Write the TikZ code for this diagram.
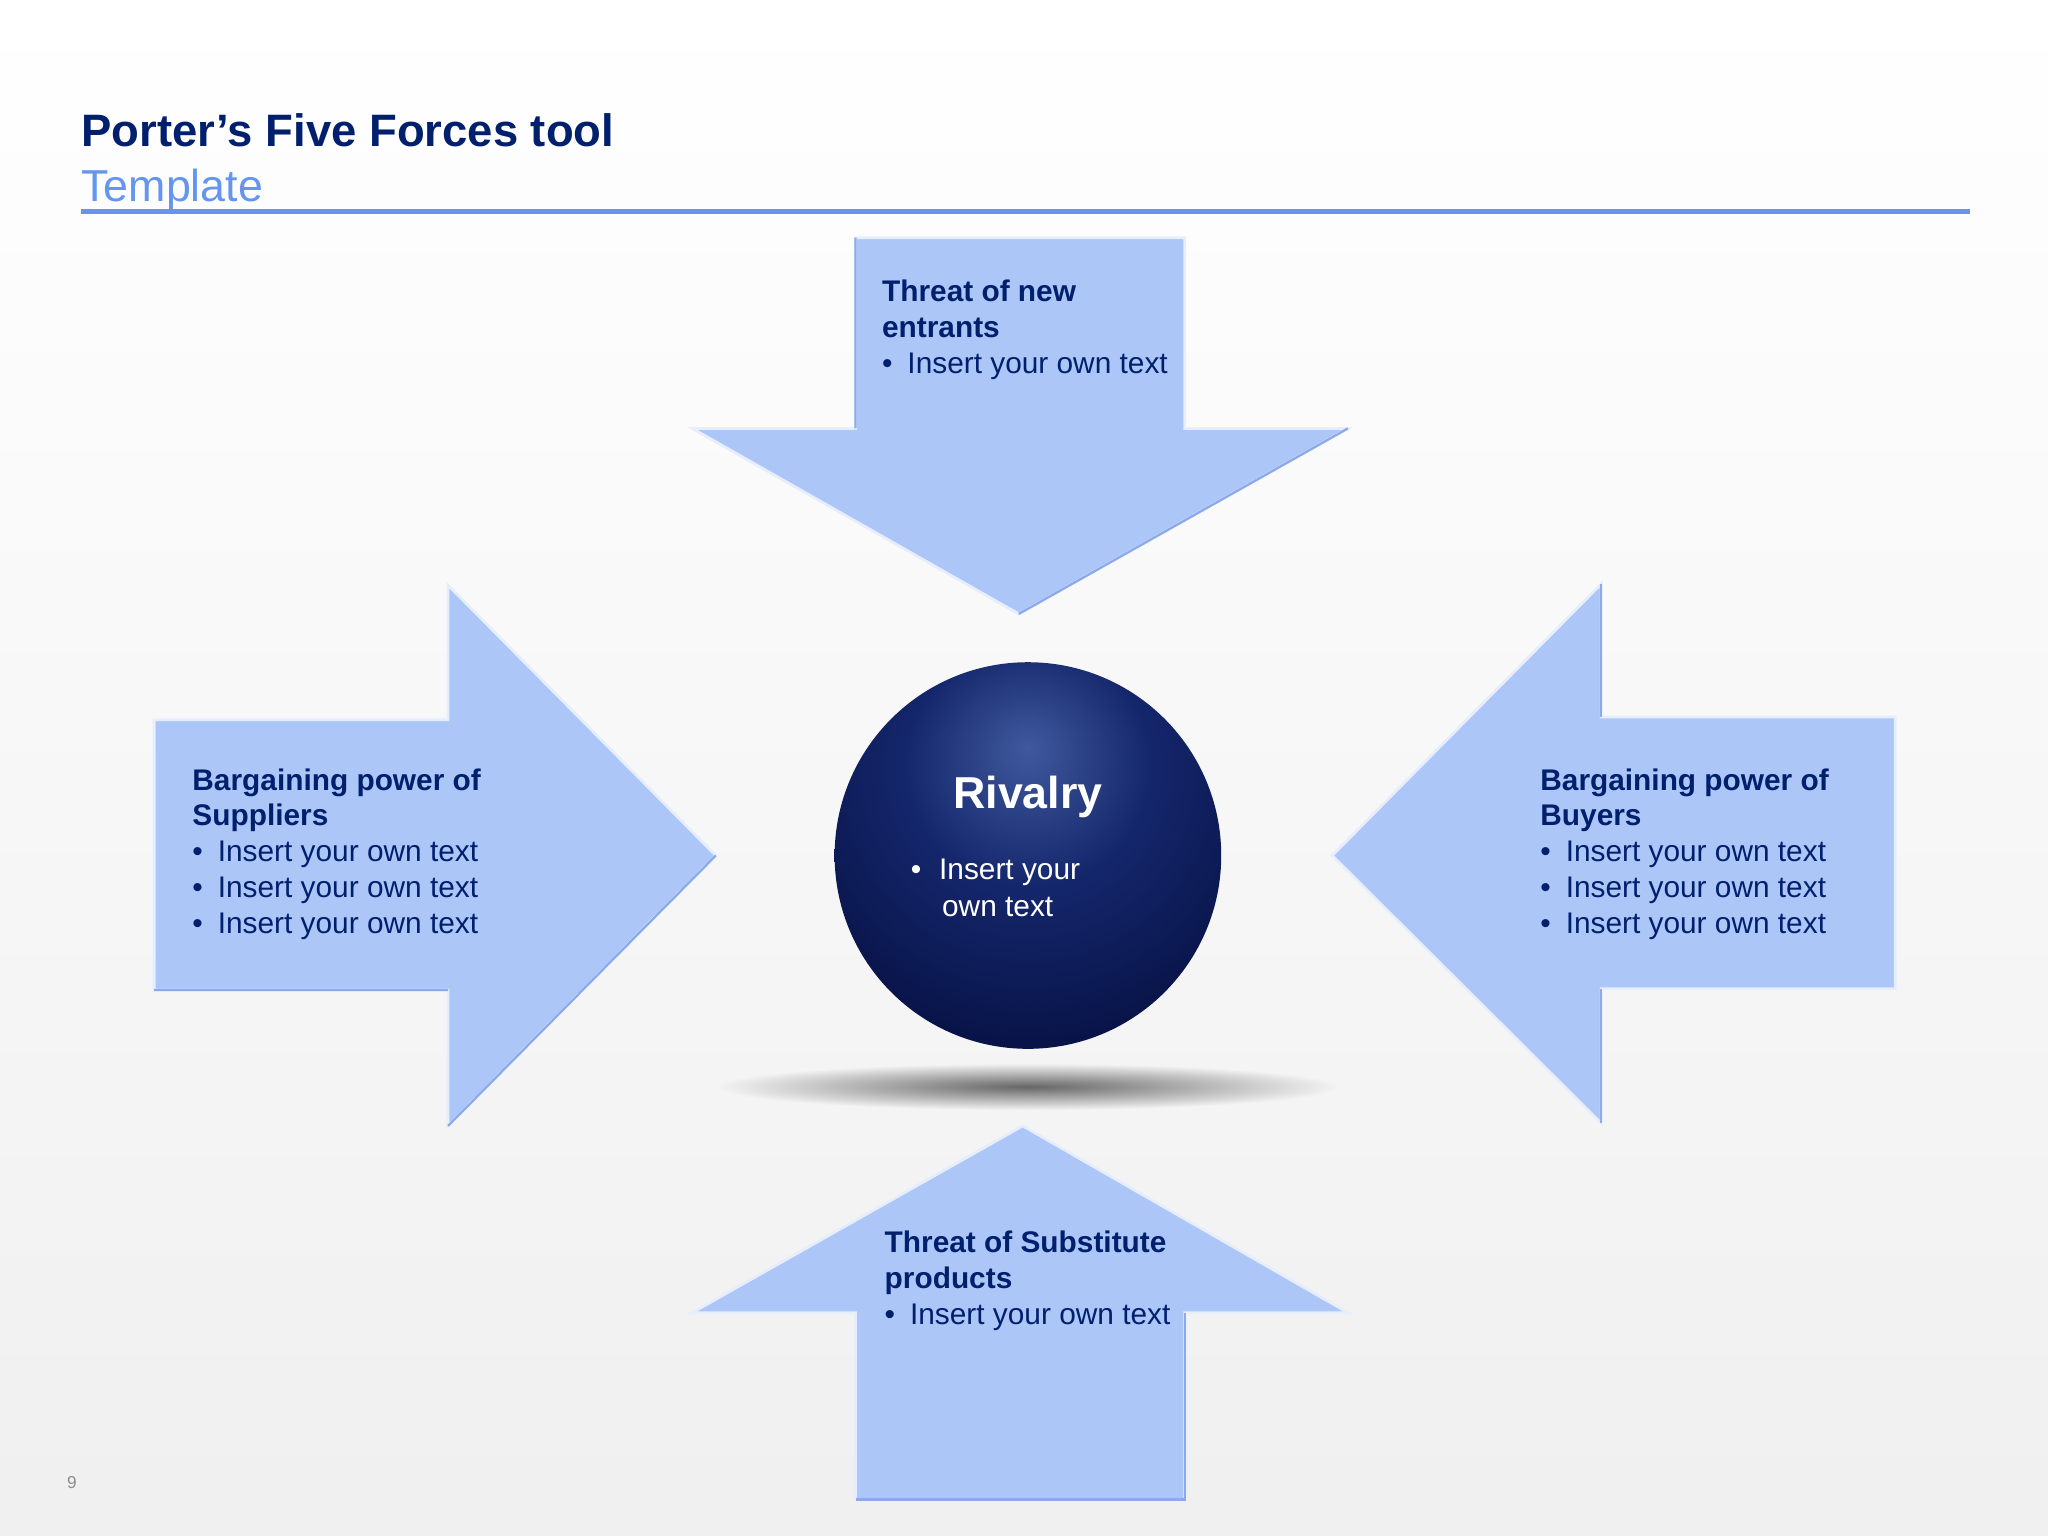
\documentclass[tikz,border=0pt]{standalone}
\usepackage{fontspec}
\setmainfont{Liberation Sans}
\usetikzlibrary{shapes.geometric}
\definecolor{navy}{RGB}{0,32,110}
\definecolor{tmpl}{RGB}{100,150,240}
\definecolor{arw}{RGB}{172,198,248}
\definecolor{arwd}{RGB}{140,170,235}
\pgfdeclareradialshading{sph}{\pgfpoint{0bp}{14bp}}{rgb(0bp)=(0.25,0.35,0.62); rgb(16bp)=(0.08,0.15,0.42); rgb(38bp)=(0.02,0.06,0.25); rgb(62bp)=(0.0,0.02,0.12); rgb(100bp)=(0.0,0.02,0.12)}
\tikzset{
  arrowshape/.style={fill=arw, draw=white!70!arw, line width=1.2pt, line join=miter},
  ftxt/.style={anchor=north west, align=left, font=\fontsize{13}{15.6}\selectfont, text=navy, inner sep=0},
}
\newcommand{\hd}[1]{\textbf{#1}}
\newcommand{\itm}{\textbullet\hspace{0.5em}Insert your own text}
\begin{document}
\begin{tikzpicture}[x=0.02cm,y=-0.02cm]
\useasboundingbox (0,0) rectangle (1568,1176);
\shade[top color=white, bottom color=black!6] (0,0) rectangle (1568,1176);
% title
\node[anchor=base west, inner sep=0, font=\fontsize{19.8}{21}\selectfont\bfseries, text=navy] (title) at (62,112) {Porter’s Five Forces tool};
\node[anchor=base west, inner sep=0, font=\fontsize{19.5}{21}\selectfont, text=tmpl] (sub) at (62,154) {Template};
\draw[tmpl, line width=2.2pt] (62,162) -- (1508,162);
% shadow under sphere
\shade[inner color=black!60, outer color=black!4] (787,832) ellipse (240 and 18);
% arrows
\path[arrowshape] (655,182) -- (907,182) -- (907,328) -- (1032,328) -- (780,470) -- (530,328) -- (655,328) -- cycle;
\path[arrowshape] (655,1148) -- (907,1148) -- (907,1005) -- (1032,1005) -- (783,862) -- (530,1005) -- (655,1005) -- cycle;
\path[arrowshape] (118,551) -- (343,551) -- (343,448) -- (548,655) -- (343,862) -- (343,758) -- (118,758) -- cycle;
\path[arrowshape] (1451,549) -- (1226,549) -- (1226,447) -- (1020,655) -- (1226,860) -- (1226,757) -- (1451,757) -- cycle;
% bevel hints
\draw[arwd, line width=1pt] (655,328) -- (655,182) (1032,328) -- (780,470);
\draw[arwd, line width=1pt] (907,1005) -- (907,1148) -- (655,1148);
\draw[arwd, line width=1pt] (118,758) -- (343,758) (343,862) -- (548,655);
\draw[arwd, line width=1pt] (1226,447) -- (1226,549) (1226,757) -- (1226,860);
% sphere
\shade[shading=sph] (787,655) circle (148);
% texts
\node[ftxt] (top) at (675,214) {\hd{Threat of new}\\\hd{entrants}\\\itm};
\node[ftxt] (bot) at (677,942) {\hd{Threat of Substitute}\\\hd{products}\\\itm};
\node[ftxt] (lft) at (147,588) {\hd{Bargaining power of}\\\hd{Suppliers}\\\itm\\\itm\\\itm};
\node[ftxt] (rgt) at (1179,588) {\hd{Bargaining power of}\\\hd{Buyers}\\\itm\\\itm\\\itm};
\node[inner sep=0, font=\fontsize{19.5}{21}\selectfont\bfseries, text=white] (riv) at (787,610) {Rivalry};
\node[ftxt, text=white, font=\fontsize{13}{16.5}\selectfont] (rtx) at (697,657) {\textbullet\hspace{0.6em}Insert your\\\hspace{1.05em}own text};
\node[anchor=base west, inner sep=0, font=\fontsize{7.5}{8}\selectfont, text=black!45] (pg) at (51,1140) {9};
\end{tikzpicture}
\end{document}
